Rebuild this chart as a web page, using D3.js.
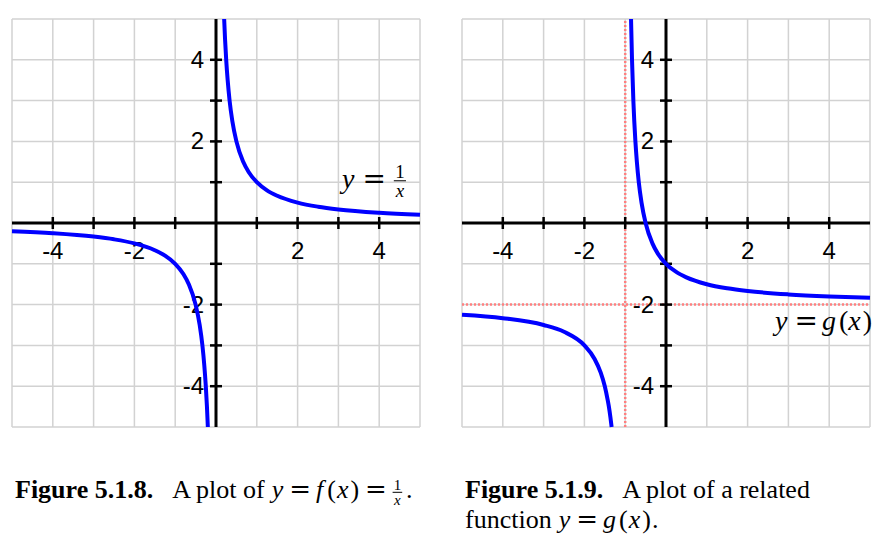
<!DOCTYPE html>
<html>
<head>
<meta charset="utf-8">
<script src="https://cdn.jsdelivr.net/npm/d3@7"></script>
<style>
  body { margin: 0; background: #fff; }
  svg { display: block; }
</style>
</head>
<body>
<script>
const width = 882;
const height = 547;

// grid / ticks
const gridValues = [-5, -4, -3, -2, -1, 0, 1, 2, 3, 4, 5];
const tickValues = [-4, -3, -2, -1, 1, 2, 3, 4];
const tickLabels = [-4, -2, 2, 4];

// y = 1/x
const fLeftX  = [-5, -4, -3, -2.5, -2, -1.5, -1.25, -1, -0.8, -0.667, -0.5, -0.4, -0.333, -0.286, -0.25, -0.222, -0.2];
const fLeftY  = [-0.2, -0.25, -0.333, -0.4, -0.5, -0.667, -0.8, -1, -1.25, -1.5, -2, -2.5, -3, -3.5, -4, -4.5, -5];
const fRightX = [0.2, 0.222, 0.25, 0.286, 0.333, 0.4, 0.5, 0.667, 0.8, 1, 1.25, 1.5, 2, 2.5, 3, 4, 5];
const fRightY = [5, 4.5, 4, 3.5, 3, 2.5, 2, 1.5, 1.25, 1, 0.8, 0.667, 0.5, 0.4, 0.333, 0.25, 0.2];

// y = g(x)
const gLeftX  = [-5, -4, -3, -2.5, -2, -1.75, -1.6, -1.5, -1.43, -1.4, -1.364, -1.333];
const gLeftY  = [-2.25, -2.333, -2.5, -2.667, -3, -3.333, -3.667, -4, -4.333, -4.5, -4.75, -5];
const gRightX = [-0.857, -0.833, -0.8, -0.75, -0.714, -0.667, -0.6, -0.5, -0.333, -0.2, 0, 0.25, 0.5, 1, 1.5, 2, 3, 4, 5];
const gRightY = [5, 4, 3, 2, 1.5, 1, 0.5, 0, -0.5, -0.75, -1, -1.2, -1.333, -1.5, -1.6, -1.667, -1.75, -1.8, -1.833];
const gAsymX = -1;
const gAsymY = -2;

const svg = d3.select("body").append("svg")
  .attr("width", width)
  .attr("height", height);

const sansFont = "'Liberation Sans', Arial, sans-serif";
const serifFont = "'Liberation Serif', 'Times New Roman', serif";
const eqFont = "'DejaVu Serif', serif"; // 「=」を幅広に

// パネル描画
function drawPanel(x0, x1, y0, y1) {
  const x = d3.scaleLinear().domain([-5, 5]).range([x0, x1]);
  const y = d3.scaleLinear().domain([-5, 5]).range([y1, y0]);
  const g = svg.append("g");

  // grid
  g.selectAll(".vg").data(gridValues).join("line")
    .attr("x1", d => x(d)).attr("x2", d => x(d))
    .attr("y1", y(-5)).attr("y2", y(5))
    .attr("stroke", "#d2d2d2").attr("stroke-width", 1.5);
  g.selectAll(".hg").data(gridValues).join("line")
    .attr("y1", d => y(d)).attr("y2", d => y(d))
    .attr("x1", x(-5)).attr("x2", x(5))
    .attr("stroke", "#d2d2d2").attr("stroke-width", 1.5);

  return { x, y, g };
}

function drawAxes(p) {
  const { x, y, g } = p;
  g.append("line")
    .attr("x1", x(-5)).attr("x2", x(5))
    .attr("y1", y(0)).attr("y2", y(0))
    .attr("stroke", "black").attr("stroke-width", 3);
  g.append("line")
    .attr("x1", x(0)).attr("x2", x(0))
    .attr("y1", y(-5)).attr("y2", y(5))
    .attr("stroke", "black").attr("stroke-width", 3);

  // ticks（軸をまたぐ）
  g.selectAll(".xt").data(tickValues).join("line")
    .attr("x1", d => x(d)).attr("x2", d => x(d))
    .attr("y1", y(0) - 6).attr("y2", y(0) + 6)
    .attr("stroke", "black").attr("stroke-width", 2.5);
  g.selectAll(".yt").data(tickValues).join("line")
    .attr("y1", d => y(d)).attr("y2", d => y(d))
    .attr("x1", x(0) - 6).attr("x2", x(0) + 6)
    .attr("stroke", "black").attr("stroke-width", 2.5);
}

function drawLabels(p) {
  const { x, y, g } = p;
  g.selectAll(".xl").data(tickLabels).join("text")
    .attr("x", d => x(d))
    .attr("y", y(0) + 36)
    .attr("text-anchor", "middle")
    .style("font-family", sansFont)
    .style("font-size", "24px")
    .text(d => d);
  g.selectAll(".yl").data(tickLabels).join("text")
    .attr("x", x(0) - 12)
    .attr("y", d => y(d) + 8)
    .attr("text-anchor", "end")
    .style("font-family", sansFont)
    .style("font-size", "24px")
    .text(d => d);
}

function drawCurve(p, xs, ys) {
  const { x, y, g } = p;
  const pts = xs.map((d, i) => [d, ys[i]]);
  g.append("path")
    .datum(pts)
    .attr("fill", "none")
    .attr("stroke", "#0000ff")
    .attr("stroke-width", 4)
    .attr("d", d3.line().x(d => x(d[0])).y(d => y(d[1])).curve(d3.curveMonotoneX));
}

// 左パネル
const pL = drawPanel(12, 420, 19, 427);
drawAxes(pL);
drawLabels(pL);
drawCurve(pL, fLeftX, fLeftY);
drawCurve(pL, fRightX, fRightY);

// 右パネル
const pR = drawPanel(462, 870, 19, 427);
// 漸近線
pR.g.append("line")
  .attr("x1", pR.x(gAsymX)).attr("x2", pR.x(gAsymX))
  .attr("y1", pR.y(-5)).attr("y2", pR.y(5))
  .attr("stroke", "#ff8080").attr("stroke-width", 2.5)
  .attr("stroke-dasharray", "2,2");
pR.g.append("line")
  .attr("x1", pR.x(-5)).attr("x2", pR.x(5))
  .attr("y1", pR.y(gAsymY)).attr("y2", pR.y(gAsymY))
  .attr("stroke", "#ff8080").attr("stroke-width", 2.5)
  .attr("stroke-dasharray", "2,2");
drawAxes(pR);
drawLabels(pR);
drawCurve(pR, gLeftX, gLeftY);
drawCurve(pR, gRightX, gRightY);

// 分数
function frac(parent, cx, base, size, num, den) {
  parent.append("text")
    .attr("x", cx).attr("y", base - size * 0.55)
    .attr("text-anchor", "middle")
    .style("font-family", serifFont)
    .style("font-size", size + "px")
    .text(num);
  parent.append("line")
    .attr("x1", cx - size * 0.32).attr("x2", cx + size * 0.32)
    .attr("y1", base - size * 0.38).attr("y2", base - size * 0.38)
    .attr("stroke", "black").attr("stroke-width", 1);
  parent.append("text")
    .attr("x", cx).attr("y", base + size * 0.45)
    .attr("text-anchor", "middle")
    .style("font-family", serifFont)
    .style("font-size", size + "px")
    .style("font-style", "italic")
    .text(den);
}

// 文字を左から順に流す: {t, it, b, eq, gap, frac:[num,den,size,w]}
function flow(parent, x, y, size, items) {
  let cx = x;
  items.forEach(p => {
    cx += p.gap || 0;
    if (p.frac) {
      const w = p.frac[3];
      frac(parent, cx + w / 2, y, p.frac[2], p.frac[0], p.frac[1]);
      cx += w;
      return;
    }
    const t = parent.append("text")
      .attr("x", cx).attr("y", y)
      .style("font-family", p.eq ? eqFont : serifFont)
      .style("font-size", size + "px")
      .style("font-style", p.it ? "italic" : "normal")
      .style("font-weight", p.b ? "bold" : "normal")
      .text(p.t);
    cx += t.node().getComputedTextLength();
  });
  return cx;
}

// y = 1/x
flow(svg, 342, 188, 28, [
  { t: "y", it: true },
  { t: "=", eq: true, gap: 8 },
  { frac: ["1", "x", 19, 12], gap: 8 }
]);

// y = g(x)
flow(svg, 775, 330, 28, [
  { t: "y", it: true },
  { t: "=", eq: true, gap: 7 },
  { t: "g", it: true, gap: 4 },
  { t: "(", gap: 3 },
  { t: "x", it: true },
  { t: ")", gap: 2 }
]);

// キャプション
flow(svg, 15, 498, 26, [
  { t: "Figure 5.1.8.", b: true },
  { t: "A plot of", gap: 19 },
  { t: "y", it: true, gap: 7 },
  { t: "=", eq: true, gap: 6 },
  { t: "f", it: true, gap: 5 },
  { t: "(", gap: 4 },
  { t: "x", it: true, gap: 1 },
  { t: ")", gap: 2 },
  { t: "=", eq: true, gap: 6 },
  { frac: ["1", "x", 15, 11], gap: 5 },
  { t: ".", gap: 3 }
]);

flow(svg, 465, 498, 26, [
  { t: "Figure 5.1.9.", b: true },
  { t: "A plot of a related", gap: 19 }
]);
flow(svg, 465, 528, 26, [
  { t: "function" },
  { t: "y", it: true, gap: 7 },
  { t: "=", eq: true, gap: 6 },
  { t: "g", it: true, gap: 5 },
  { t: "(", gap: 3 },
  { t: "x", it: true, gap: 1 },
  { t: ")", gap: 2 },
  { t: ".", gap: 1 }
]);
</script>
</body>
</html>
